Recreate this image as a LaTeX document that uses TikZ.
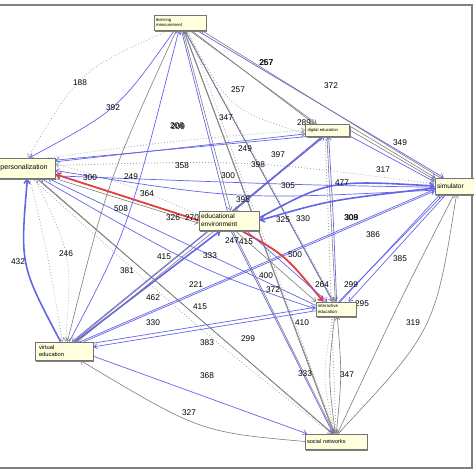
\documentclass[tikz,border=0pt]{standalone}
\usepackage{fontspec}
\setmainfont{Liberation Sans}
\usetikzlibrary{arrows.meta,shadows}
\definecolor{eblue}{RGB}{100,100,232}
\definecolor{egray}{RGB}{125,125,125}
\definecolor{edot}{RGB}{165,165,165}
\definecolor{ered}{RGB}{228,62,62}
\definecolor{boxfill}{RGB}{255,255,222}
\pgfdeclarelayer{edges}
\pgfdeclarelayer{labels}
\pgfsetlayers{edges,labels,main}
\begin{document}
\begin{tikzpicture}[x=1pt,y=-1pt,
 box/.style={draw=black!55,fill=boxfill,line width=0.5pt,inner xsep=2pt,inner ysep=0.5pt,align=left,anchor=center,
   drop shadow={shadow xshift=1pt,shadow yshift=-1.6pt,fill=black!50,opacity=1}},
 lab/.style={font=\fontsize{8.3}{9}\selectfont,inner sep=0pt,text=black},
 tip/.style={-{Straight Barb[length=3.5pt,width=5pt]}},
 bl/.style={tip,draw=eblue,line width=0.7pt},
 gr/.style={tip,draw=egray,line width=0.6pt},
 dt/.style={tip,draw=edot,line width=0.8pt,dash pattern=on 0.8pt off 2.2pt},
 rd/.style={-{Straight Barb[length=4pt,width=6pt]},draw=ered,line width=1.8pt},
 bb/.style={-{Straight Barb[length=4pt,width=6pt]},draw=eblue,line width=1.6pt}]
\useasboundingbox (0,0) rectangle (474,474);
\begin{scope}
\clip (0,0) rectangle (474,474);

% nodes
\node[box,minimum width=52pt,minimum height=15pt,text width=48pt,font=\fontsize{4.3}{5.5}\selectfont] (LM) at (180,22.5) {learning\\measurement};
\node[box,minimum width=43pt,minimum height=12pt,text width=40pt,font=\fontsize{4.2}{5}\selectfont] (DE) at (327.5,130) {digital education};
\node[box,minimum width=58pt,minimum height=20pt,inner xsep=3.5pt,text width=51pt,font=\fontsize{7}{8}\selectfont] (P) at (26,168) {personalization};
\node[box,minimum width=46pt,minimum height=16pt,text width=42pt,font=\fontsize{6.6}{8}\selectfont] (S) at (458,186) {simulator};
\node[box,minimum width=60pt,minimum height=19pt,text width=56pt,font=\fontsize{6.6}{8}\selectfont] (EE) at (229,220.5) {educational\\environment};
\node[box,minimum width=40pt,minimum height=14pt,text width=36pt,font=\fontsize{4.4}{5.5}\selectfont] (IE) at (336,309) {interactive\\education};
\node[box,minimum width=58pt,minimum height=18pt,text width=50pt,font=\fontsize{5.8}{7}\selectfont] (VE) at (64,351) {virtual\\education};
\node[box,minimum width=62pt,minimum height=15pt,text width=58pt,font=\fontsize{5.6}{7}\selectfont] (SN) at (336,441.5) {social networks};

\begin{pgfonlayer}{edges}
% frame
\draw[black!50,line width=1.3pt] (0,5) -- (472,5) -- (472,468) -- (0,468);
% edges around personalization
\draw[bl] (LM.235) .. controls (118,110) .. (P.72);
\draw[dt] (LM.215) .. controls (80,70) .. (P.80);
\draw[bb] (VE.110) .. controls (20,265) .. (P.278);
\draw[dt] (P.290) .. controls (48,255) .. (VE.100);
\draw[dt] (P.310) .. controls (72,255) .. (VE.80);
\draw[rd] (EE.west) -- (P.348);
\draw[dt] (EE.170) .. controls (130,185) .. (P.8);
\draw[bl] (DE.200) -- (P.15);
\draw[bl] (S.190) .. controls (240,200) .. (P.355);
\draw[bl] (P.12) -- (DE.190);
\draw[dt] (P.25) .. controls (180,140) .. (DE.180);
\draw[bl] (IE.170) -- (P.335);
\draw[bl] (IE.180) .. controls (200,270) .. (P.325);
\draw[gr] (SN.110) -- (P.315);
\draw[gr] (P.318) -- (SN.115);
\draw[gr] (P.340) -- (EE.185);
\draw[dt] (P.300) .. controls (200,330) .. (SN.120);
% around learning measurement
\draw[bl] (VE.60) .. controls (128,230) .. (LM.262);
\draw[gr] (LM.245) .. controls (108,180) .. (VE.70);
\draw[bl] (EE.100) -- (LM.280);
\draw[gr] (LM.290) -- (EE.80);
\draw[gr] (LM.295) -- (SN.105);
\draw[gr] (SN.100) -- (LM.298);
\draw[bl] (LM.300) -- (IE.110);
\draw[gr] (LM.302) -- (IE.115);
\draw[dt] (LM.305) -- (IE.100);
\draw[gr] (LM.320) -- (DE.150);
\draw[gr] (LM.325) -- (DE.155);
\draw[dt] (LM.310) .. controls (230,110) .. (DE.190);
\draw[bl] (LM.335) -- (S.150);
\draw[gr] (S.155) .. controls (330,110) .. (LM.340);
\draw[dt] (LM.318) .. controls (250,200) .. (SN.95);
% around digital education
\draw[gr] (DE.10) -- (S.160);
\draw[gr] (DE.0) -- (S.165);
\draw[bl] (DE.345) -- (S.170);
\draw[dt] (P.5) .. controls (250,160) .. (S.175);
\draw[gr] (DE.265) -- (IE.95);
\draw[bl] (IE.85) .. controls (333,210) .. (DE.280);
\draw[gr] (DE.235) -- (EE.60);
\draw[gr] (DE.240) -- (VE.50);
\draw[bl] (EE.70) -- (DE.230);
\draw[bl] (VE.45) -- (DE.245);
\draw[dt] (DE.250) -- (SN.90);
% around simulator
\draw[bb] (EE.5) .. controls (330,180) .. (S.180);
\draw[bb] (S.185) .. controls (330,200) .. (EE.0);
\draw[bl] (VE.30) -- (S.188);
\draw[bl] (VE.25) -- (S.192);
\draw[bl] (IE.60) -- (S.205);
\draw[bl] (IE.70) -- (S.210);
\draw[gr] (SN.75) .. controls (435,330) .. (S.260);
\draw[gr] (S.245) .. controls (400,300) .. (SN.80);
\draw[bl] (P.345) .. controls (300,185) .. (S.183);
% around interactive / educational environment
\draw[rd] (EE.320) .. controls (285,255) .. (IE.150);
\draw[gr] (EE.300) -- (IE.160);
\draw[bl] (EE.330) -- (IE.140);
\draw[bb] (VE.40) -- (EE.230);
\draw[gr] (EE.215) -- (VE.35);
\draw[bl] (VE.15) -- (IE.175);
\draw[bl] (IE.185) -- (VE.8);
\draw[bl] (VE.350) -- (SN.165);
\draw[gr] (SN.180) .. controls (200,432) .. (VE.330);
\draw[gr] (IE.260) .. controls (328,375) .. (SN.95);
\draw[gr] (SN.88) .. controls (342,375) .. (IE.280);
\draw[dt] (IE.250) .. controls (322,375) .. (SN.100);
\draw[gr] (EE.290) -- (SN.102);
\draw[bl] (EE.280) -- (SN.110);
\draw[bl] (S.215) -- (IE.30);
\end{pgfonlayer}

\begin{pgfonlayer}{labels}
\node[lab] (l1) at (80,83) {188};
\node[lab] (l2) at (113,108) {392};
\node[lab] (l3) at (177,126) {208};
\node[lab] (l3b) at (178,126.5) {209};
\node[lab] (l4) at (266,63) {257};
\node[lab] (l4b) at (266.5,63) {267};
\node[lab] (l5) at (331,86) {372};
\node[lab] (l6) at (238,90) {257};
\node[lab] (l7) at (226,118) {347};
\node[lab] (l8) at (304,123) {289};
\node[lab] (l9) at (400,143) {349};
\node[lab] (l10) at (245,149) {249};
\node[lab] (l11) at (182,166) {358};
\node[lab] (l12) at (278,155) {397};
\node[lab] (l13) at (258,165) {398};
\node[lab] (l14) at (228,176) {300};
\node[lab] (l15) at (288,186) {305};
\node[lab] (l16) at (383,170) {317};
\node[lab] (l17) at (342,183) {477};
\node[lab] (l18) at (90,178) {300};
\node[lab] (l19) at (131,177) {249};
\node[lab] (l20) at (147,194) {364};
\node[lab] (l21) at (121,209) {508};
\node[lab] (l22) at (173,218) {326};
\node[lab] (l23) at (192,218) {270};
\node[lab] (l24) at (243,200) {395};
\node[lab] (l25) at (283,220) {325};
\node[lab] (l26) at (303,219) {330};
\node[lab] (l27) at (351,218) {308};
\node[lab] (l27b) at (351.5,218) {309};
\node[lab] (l28) at (373,235) {386};
\node[lab] (l29) at (66,254) {246};
\node[lab] (l30) at (18,262) {432};
\node[lab] (l31) at (164,257) {415};
\node[lab] (l32) at (210,256) {333};
\node[lab] (l33) at (232,241) {247};
\node[lab] (l34) at (246,242) {415};
\node[lab] (l35) at (295,255) {500};
\node[lab] (l36) at (196,285) {221};
\node[lab] (l37) at (127,271) {381};
\node[lab] (l38) at (266,276) {400};
\node[lab] (l39) at (273,290) {372};
\node[lab] (l40) at (322,285) {264};
\node[lab] (l41) at (351,285) {299};
\node[lab] (l42) at (400,259) {385};
\node[lab] (l43) at (153,298) {462};
\node[lab] (l44) at (200,307) {415};
\node[lab] (l45) at (153,323) {330};
\node[lab] (l46) at (362,304) {295};
\node[lab] (l47) at (302,323) {410};
\node[lab] (l48) at (413,323) {319};
\node[lab] (l49) at (207,343) {383};
\node[lab] (l50) at (248,339) {299};
\node[lab] (l51) at (305,374) {333};
\node[lab] (l52) at (347,375) {347};
\node[lab] (l53) at (207,376) {368};
\node[lab] (l54) at (189,413) {327};
\end{pgfonlayer}
\end{scope}
\end{tikzpicture}
\end{document}
